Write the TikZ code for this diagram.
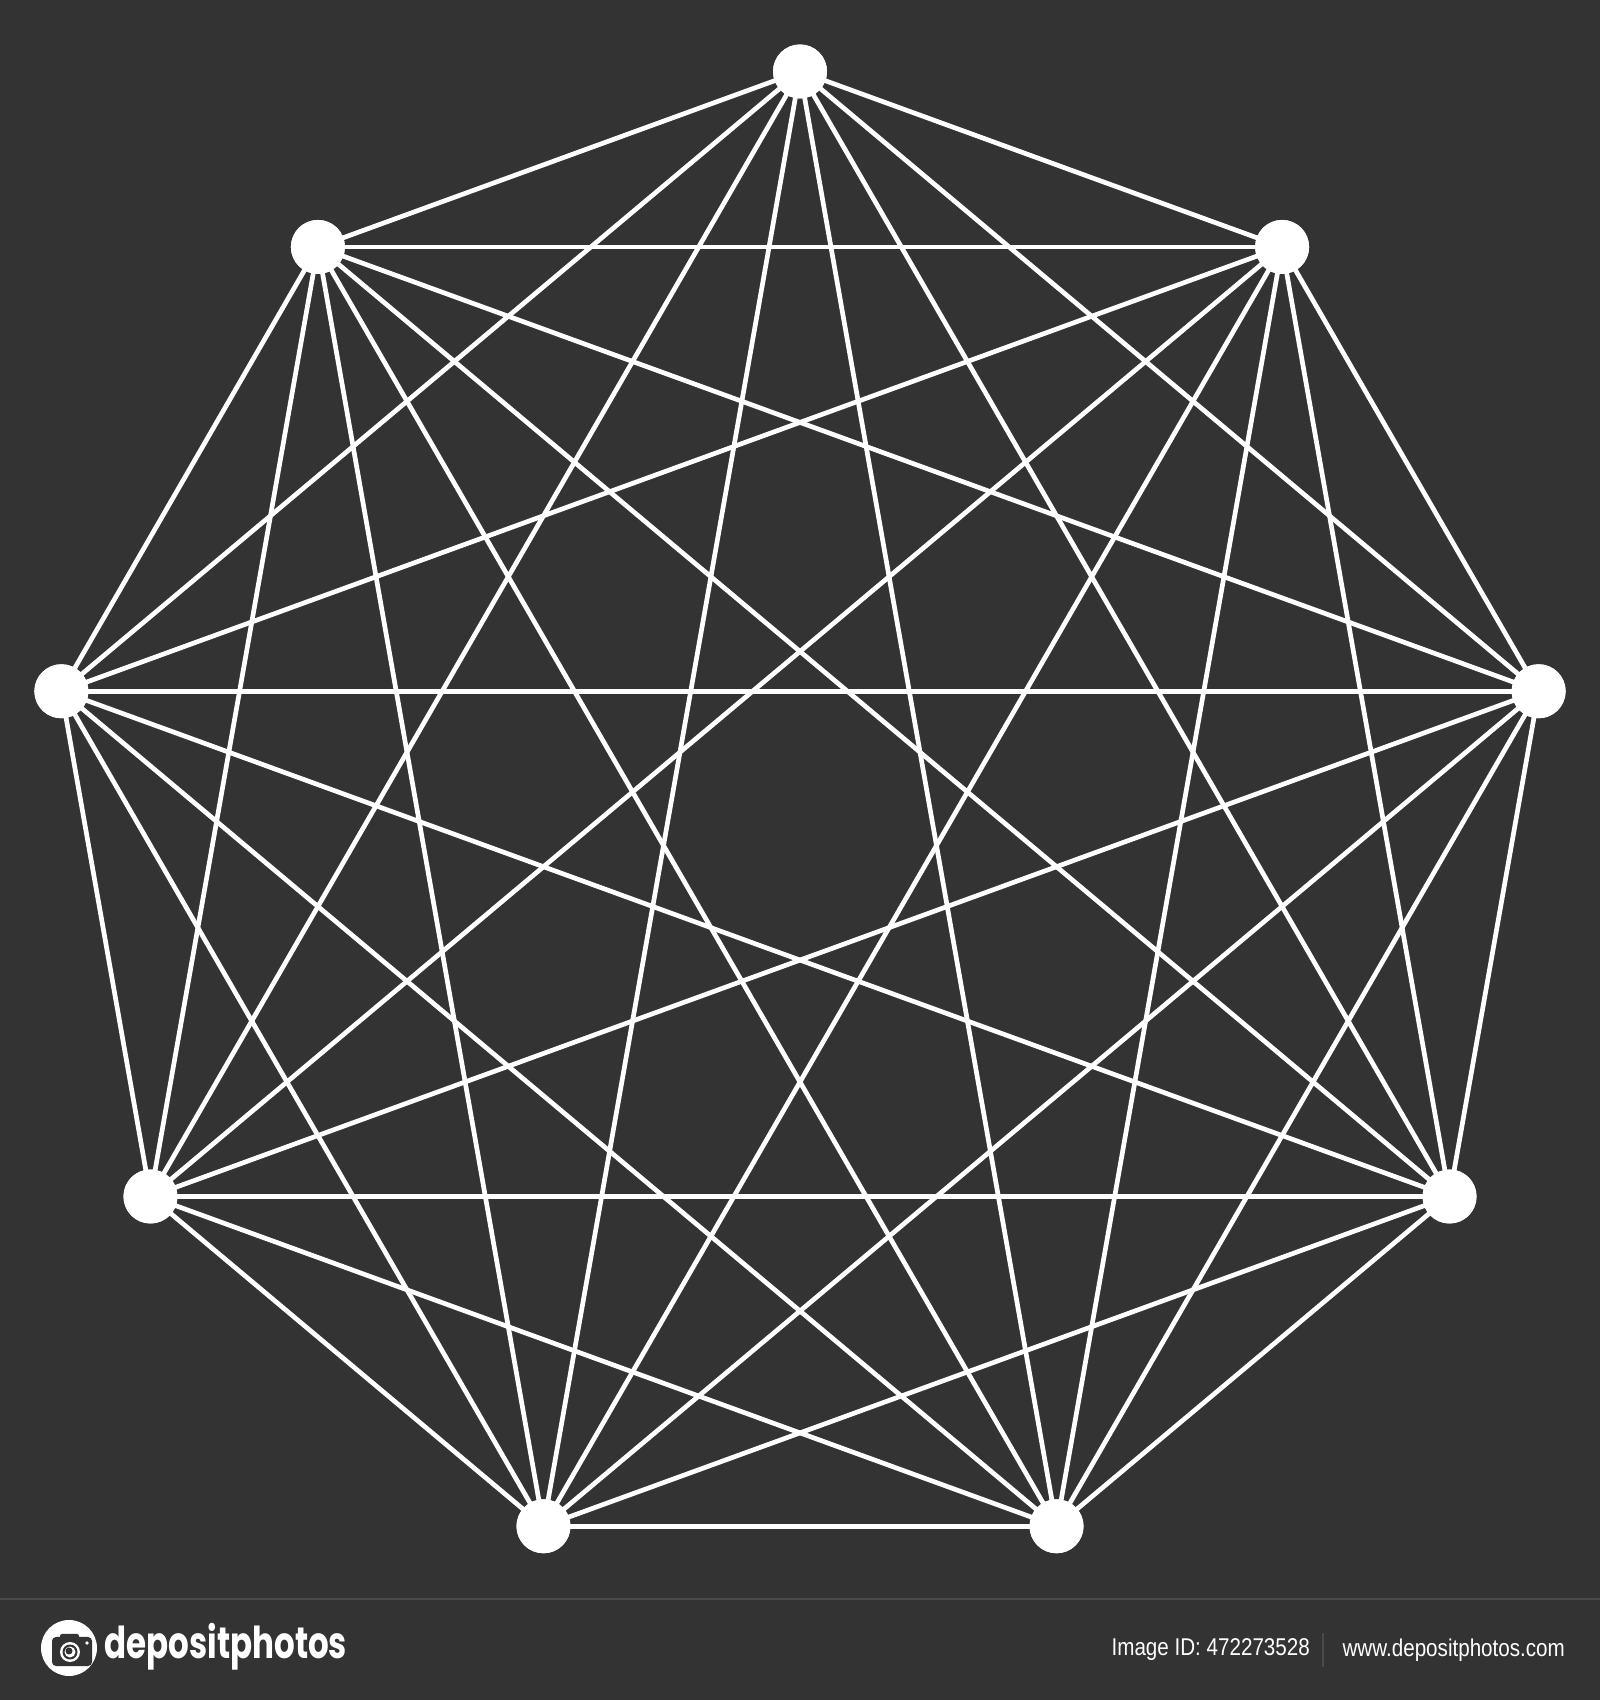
\documentclass[tikz,border=0pt]{standalone}
\usepackage{fontspec}
\setmainfont{Liberation Sans}
\newfontfamily\brandfont{Poppins}
\usepackage{tikz}
\definecolor{bgdark}{HTML}{333333}
\definecolor{rulegray}{HTML}{4A4A4A}

\begin{document}
\begin{tikzpicture}[
    dot/.style={circle, fill=white, draw=none, minimum size=0.54cm, inner sep=0pt},
    edge/.style={draw=white, line width=0.047cm},
    footnote/.style={text=white, font=\fontsize{6.9}{7}\selectfont, xscale=0.85, transform shape, inner sep=0pt}
]
\fill[bgdark] (0,0) rectangle (16,17);
\useasboundingbox (0,0) rectangle (16,17);
\draw[rulegray, line width=0.4pt] (0,1.01) -- (16,1.01);

% nonagon of nodes
\begin{scope}[shift={(8,8.785)}]
\foreach \i in {0,...,8}
    \node[dot] (v\i) at ({90-40*\i}:7.5) {};
\end{scope}

% every pair joined
\foreach \i in {0,...,7}{
    \pgfmathtruncatemacro\nxt{\i+1}
    \foreach \j in {\nxt,...,8}
        \draw[edge] (v\i.center) -- (v\j.center);
}
\foreach \i in {0,...,8}
    \fill[white] (v\i.center) circle (0.27);

% footer logo
\node[circle, fill=white, minimum size=0.56cm, inner sep=0pt] (logo) at (0.69,0.52) {};
\fill[bgdark, rounded corners=0.04cm] (0.52,0.34) rectangle (0.92,0.63);
\fill[bgdark, rounded corners=0.02cm] (0.60,0.60) rectangle (0.79,0.66);
\fill[white] (0.70,0.48) circle (0.10);
\fill[bgdark] (0.70,0.48) circle (0.075);
\fill[white] (0.70,0.48) circle (0.055);
\fill[bgdark] (0.69,0.49) circle (0.035);
\fill[white] (0.87,0.57) circle (0.018);
\node[text=white, font=\brandfont\bfseries\fontsize{12.5}{13}\selectfont, xscale=0.74, transform shape, inner sep=0pt, anchor=west] (brand) at (1.04,0.53) {depositphotos};

% footer ids
\node[footnote, anchor=west] (imgid) at (11.11,0.50) {Image ID: 472273528};
\node[footnote, anchor=west] (site) at (13.42,0.50) {www.depositphotos.com};
\coordinate (sepTop) at (13.23,0.67);
\coordinate (sepBot) at (13.23,0.33);
\draw[rulegray, line width=0.5pt] (sepTop) -- (sepBot);
\end{tikzpicture}
\end{document}
